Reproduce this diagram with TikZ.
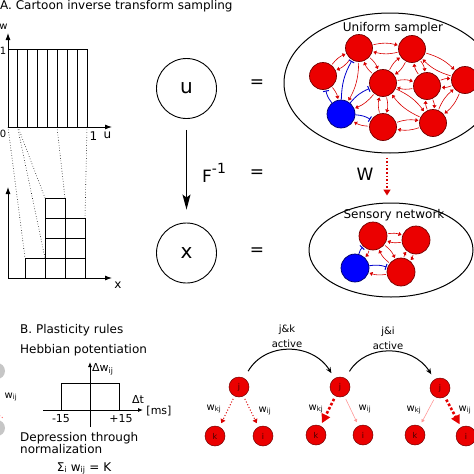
\documentclass[tikz,border=0pt]{standalone}
\usepackage{fontspec}
\setmainfont{DejaVu Sans}
\usetikzlibrary{arrows.meta,shapes.geometric}

\tikzset{
  neuron/.style={circle,draw=red!45!black,fill=red!92!black,line width=0.7pt,minimum size=27pt,inner sep=0pt},
  inhneuron/.style={circle,draw=blue!40!black,fill=blue,line width=0.7pt,minimum size=28pt,inner sep=0pt},
  syn/.style={-{Triangle[length=3pt,width=4pt]},red!85!black,line width=0.6pt,shorten <=1pt,shorten >=1pt},
  inh/.style={-{Bar[width=6pt,line width=1pt]},blue!80!black,line width=0.8pt,shorten >=1pt},
  cell/.style={circle,draw=red!45!black,fill=red!92!black,line width=0.5pt,minimum size=20pt,inner sep=0pt,font=\fontsize{8}{9}\selectfont,text=black!75!red},
  weak/.style={-{Triangle[length=4pt,width=5pt]},red!85!black,dotted,line width=1pt,shorten <=3pt,shorten >=4pt},
  strong/.style={-{Triangle[length=9pt,width=9pt]},red!90!black,line width=2.6pt,dash pattern=on 2.6pt off 2pt,shorten <=3pt,shorten >=3pt},
  faint/.style={-{Triangle[length=3pt,width=3.5pt]},red!40,line width=0.6pt,shorten <=3pt,shorten >=4pt},
  lbl/.style={font=\fontsize{10}{11}\selectfont,inner sep=0pt},
  txt/.style={font=\fontsize{12}{14}\selectfont,inner sep=0pt},
  big/.style={font=\fontsize{17}{20}\selectfont,inner sep=0pt},
}

\begin{document}
\begin{tikzpicture}[x=1pt,y=-1pt]
\useasboundingbox (0,0) rectangle (474,474);
\clip (0,0) rectangle (474,474);

% A. inverse transform sampling
\node[txt,anchor=base west] (titleA) at (0,9) {A. Cartoon inverse transform sampling};

% uniform density
\draw[line width=0.8pt] (8,49) rectangle (87,127);
\foreach \i in {1,...,7}
  \draw[line width=0.8pt] ({8+\i*9.875},49) -- ({8+\i*9.875},127);
\draw[-{Latex[length=7pt,width=5pt]},line width=0.9pt] (8,127) -- (8,33);
\draw[-{Latex[length=7pt,width=5pt]},line width=0.9pt] (8,127) -- (112,127);
\node[lbl] (pu) at (3.5,27) {w};
\node[lbl] (one) at (3,51) {1};
\node[lbl] (zero) at (3,134) {0};
\node[txt] (oneu) at (93.5,136) {1};
\node[txt] (ulab) at (107.5,135) {u};

% target density
\foreach \c/\h in {25/1,45/4,65/3}
  \foreach \r in {1,...,\h}
    \draw[line width=0.8pt] (\c,{278-20*\r}) rectangle ({\c+20},{278-20*(\r-1)});
\draw[-{Latex[length=7pt,width=5pt]},line width=0.9pt] (8,278) -- (8,187);
\draw[-{Latex[length=7pt,width=5pt]},line width=0.9pt] (8,278) -- (112,278);
\node[txt] (xlab) at (118,285) {x};

% mapping
\draw[dotted,line width=0.6pt] (8,127) -- (25,258);
\draw[dotted,line width=0.6pt] (17.5,127) -- (45,258);
\draw[dotted,line width=0.6pt] (18,127) -- (45,198);
\draw[dotted,line width=0.6pt] (57,127) -- (65,198);
\draw[dotted,line width=0.6pt] (87,127) -- (85,218);

% u -> x
\node[circle,draw,line width=0.9pt,minimum size=60pt,inner sep=0pt,font=\fontsize{20}{24}\selectfont] (U) at (186.5,88.5) {u};
\node[circle,draw,line width=0.9pt,minimum size=60pt,inner sep=0pt,font=\fontsize{20}{24}\selectfont] (X) at (186.5,253) {x};
\draw[-{Stealth[length=15pt,width=8pt,inset=3pt]},line width=1.1pt,shorten <=11pt,shorten >=13pt] (U) -- (X);
\node[big,anchor=base west] (Finv) at (202,182) {F\raisebox{9pt}{\fontsize{14}{16}\selectfont -1}};
\node[big] (eq1) at (257,84) {=};
\node[big] (eq2) at (257,174) {=};
\node[big] (eq3) at (257,252) {=};
\node[big] (Wlab) at (365,174) {W};

% uniform sampler
\node[ellipse,draw,line width=1pt,minimum width=212pt,minimum height=140pt] (US) at (390,83) {};
\node[txt,anchor=base] (UStext) at (393,31) {Uniform sampler};
\node[neuron] (N1) at (359,48) {};
\node[neuron] (N2) at (412,49) {};
\node[neuron] (N3) at (323,76) {};
\node[neuron] (N4) at (383,83) {};
\node[neuron] (N5) at (427,86) {};
\node[neuron] (N6) at (465,80) {};
\node[inhneuron] (B) at (341,114) {};
\node[neuron] (N7) at (383,127) {};
\node[neuron] (N8) at (433,123) {};
\foreach \a/\b in {N1/N2,N1/N3,N1/N4,N2/N4,N2/N5,N2/N6,N4/N5,N5/N6,N4/N7,N4/N8,N5/N8,N6/N8,N7/N8}{
  \draw[syn] (\a) to[bend left=14] (\b);
  \draw[syn] (\b) to[bend left=14] (\a);
}
\foreach \a in {N1,N3,N4,N7}{
  \draw[syn] (\a) to[bend left=14] (B);
  \draw[inh] (B) to[bend left=14] (\a);
}

% sensory network
\node[ellipse,draw,line width=1pt,minimum width=164pt,minimum height=94pt] (SN) at (391,250) {};
\node[txt,anchor=base] (SNtext) at (394,218) {Sensory network};
\node[neuron,minimum size=28pt] (S1) at (373,236) {};
\node[neuron,minimum size=28pt] (S2) at (416,240) {};
\node[inhneuron] (SB) at (355,268) {};
\node[neuron,minimum size=28pt] (S3) at (401,272) {};
\foreach \a/\b in {S1/S2,S1/S3,S2/S3}{
  \draw[syn] (\a) to[bend left=14] (\b);
  \draw[syn] (\b) to[bend left=14] (\a);
}
\foreach \a in {S1,S3}{
  \draw[syn] (\a) to[bend left=14] (SB);
  \draw[inh] (SB) to[bend left=14] (\a);
}
\draw[-{Triangle[length=6pt,width=7pt]},red!85!black,line width=1.6pt,dotted,shorten <=4pt,shorten >=7pt] ([xshift=-3pt]US.south) -- ([xshift=-4pt]SN.north);

% B. plasticity rules
\node[txt,anchor=base west] (titleB) at (20,333) {B. Plasticity rules};
\node[txt,anchor=base west] (hebb) at (20,353) {Hebbian potentiation};
\node[circle,fill=gray!45,minimum size=16pt,inner sep=0pt] (g1) at (-3,371) {};
\node[circle,fill=gray!45,minimum size=16pt,inner sep=0pt] (g2) at (-3,428) {};
\node[lbl] (wg) at (11,397) {w\textsubscript{ij}};
\draw[red!70,dotted,line width=0.9pt] (-3,414) -- (3,418);

\draw[-{Latex[length=5pt,width=4pt]},line width=0.8pt] (90,427) -- (90,362);
\draw[-{Latex[length=5pt,width=4pt]},line width=0.8pt] (43,410) -- (143,410);
\draw[line width=0.9pt] (61,410) -- (61,383) -- (119,383) -- (119,410);
\node[lbl,font=\fontsize{11}{12}\selectfont,anchor=west] (dw) at (92,369) {Δw\textsubscript{ij}};
\node[lbl,font=\fontsize{11}{12}\selectfont] (dt) at (138,399) {Δt};
\node[lbl,font=\fontsize{11}{12}\selectfont] (ms) at (159,411) {[ms]};
\node[lbl,font=\fontsize{11}{12}\selectfont] (m15) at (61,419) {-15};
\node[lbl,font=\fontsize{11}{12}\selectfont] (p15) at (121,419) {+15};

\node[txt,anchor=base west] (dep) at (20,441) {Depression through};
\node[txt,anchor=base west] (norm) at (20,453) {normalization};
\node[txt,anchor=base] (sumw) at (84,471) {Σ\textsubscript{i} w\textsubscript{ij} = K};

% trees
\node[cell] (j1) at (239,387) {j};
\node[cell] (k1) at (215,436) {k};
\node[cell] (i1) at (263,436) {i};
\node[cell] (j2) at (340,387) {j};
\node[cell] (k2) at (316,435) {k};
\node[cell] (i2) at (363,435) {i};
\node[cell] (j3) at (440,388) {j};
\node[cell] (k3) at (415,435) {k};
\node[cell] (i3) at (466,436) {i};

\draw[weak] (j1) -- (k1);
\draw[weak] (j1) -- (i1);
\draw[strong] (j2) -- (k2);
\draw[faint] (j2) -- (i2);
\draw[faint] (j3) -- (k3);
\draw[strong] (j3) -- (i3);

\node[lbl] (wkj1) at (214,409) {w\textsubscript{kj}};
\node[lbl] (wij1) at (265,411) {w\textsubscript{ij}};
\node[lbl] (wkj2) at (316,409) {w\textsubscript{kj}};
\node[lbl] (wij2) at (365,409) {w\textsubscript{ij}};
\node[lbl] (wkj3) at (414,410) {w\textsubscript{kj}};
\node[lbl] (wij3) at (465,410) {w\textsubscript{ij}};

\draw[-{Stealth[length=6pt,width=5pt]},line width=1pt,shorten <=8pt,shorten >=6pt] (j1) .. controls (265,342) and (312,342) .. (j2);
\draw[-{Stealth[length=6pt,width=5pt]},line width=1pt,shorten <=8pt,shorten >=6pt] (j2) .. controls (366,344) and (412,344) .. (j3);
\node[lbl,align=center,font=\fontsize{10}{15}\selectfont] (jk) at (287,336) {j\&k\\active};
\node[lbl,align=center,font=\fontsize{10}{15}\selectfont] (ji) at (388,338) {j\&i\\active};

\end{tikzpicture}
\end{document}
